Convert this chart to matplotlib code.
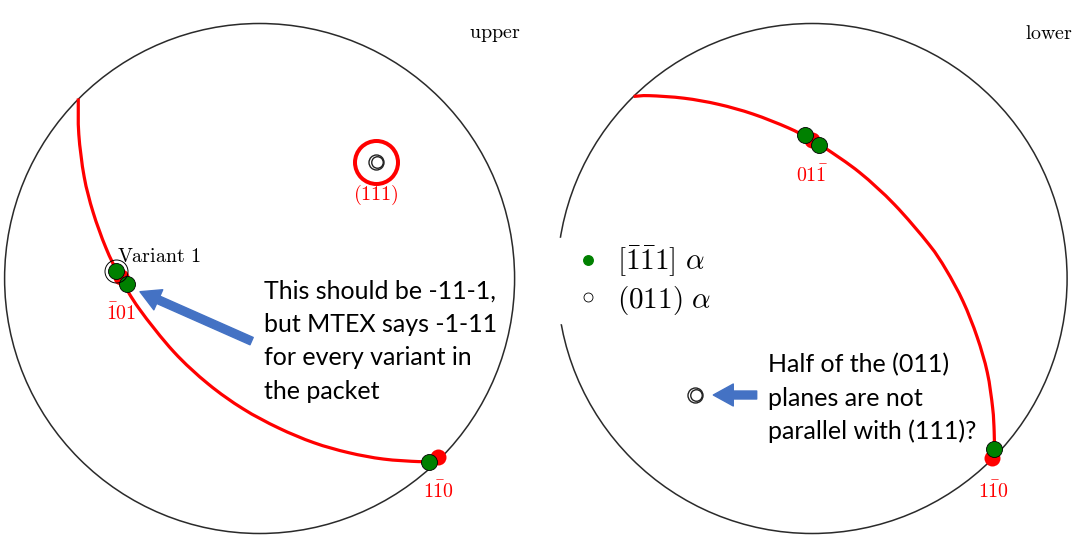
import matplotlib
matplotlib.use('Agg')
import matplotlib.pyplot as plt
from matplotlib.patches import Circle, FancyArrowPatch, ArrowStyle, PathPatch
from matplotlib.path import Path
from matplotlib.lines import Line2D

plt.rcParams['mathtext.fontset'] = 'cm'

# ---------------- data (stereographic unit-circle coordinates) ----------------
# upper hemisphere: trace of the (111) plane
upper_gc_x = [-0.711, -0.709, -0.688, -0.653, -0.603, -0.548, -0.472, -0.337,
              -0.201, -0.065, 0.074, 0.213, 0.349, 0.485, 0.622, 0.669]
upper_gc_y = [0.706, 0.565, 0.399, 0.260, 0.121, 0.006, -0.119, -0.287,
              -0.414, -0.511, -0.586, -0.644, -0.683, -0.708, -0.718, -0.716]
upper_red_x = [-0.542, 0.701]
upper_red_y = [0.004, -0.699]
upper_green_x = [-0.563, -0.521, 0.665]
upper_green_y = [0.029, -0.022, -0.718]
upper_labels = [r'$\bar{1}01$', r'$1\bar{1}0$']
upper_label_x = [-0.541, 0.700]
upper_label_y = [-0.136, -0.836]
pole_x, pole_y = [0.458], [0.458]
pole_label = r'$(111)$'
pole_label_xy = (0.454, 0.327)
variant_x, variant_y = [-0.563], [0.031]
variant_label = r'$\mathrm{Variant\ 1}$'
upper_plane_x = [0.456, 0.460]
upper_plane_y = [0.458, 0.458]

# lower hemisphere
lower_gc_x = [-0.700, -0.638, -0.502, -0.367, -0.232, -0.094, -0.010, 0.049,
              0.186, 0.323, 0.458, 0.525, 0.592, 0.647, 0.687, 0.708, 0.714, 0.715]
lower_gc_y = [0.714, 0.717, 0.707, 0.683, 0.645, 0.591, 0.548, 0.513,
              0.416, 0.290, 0.134, 0.035, -0.090, -0.229, -0.368, -0.507, -0.600, -0.667]
lower_red_x = [0.000, 0.705]
lower_red_y = [0.543, -0.705]
lower_green_x = [-0.029, 0.028, 0.714]
lower_green_y = [0.562, 0.524, -0.670]
lower_labels = [r'$01\bar{1}$', r'$1\bar{1}0$']
lower_label_x = [-0.002, 0.711]
lower_label_y = [0.406, -0.836]
lower_plane_x = [-0.461, -0.457]
lower_plane_y = [-0.457, -0.457]

legend_labels = [r'$[\bar{1}\bar{1}1]\ \alpha$', r'$(011)\ \alpha$']

note_left = ['This should be -11-1,', 'but MTEX says -1-11',
             'for every variant in', 'the packet']
note_right = ['Half of the (011)', 'planes are not', 'parallel with (111)?']

# ---------------- layout ----------------
W, H = 1091, 555
R = 255.0
CY = 278.5
fig = plt.figure(figsize=(W / 100, H / 100), dpi=100)

axL = fig.add_axes([0, 0, 545 / W, 1])
cxL = 259.6
axL.set_xlim(-cxL / R, (545 - cxL) / R)
axL.set_ylim(-(H - CY) / R, CY / R)

axR = fig.add_axes([545 / W, 0, 546 / W, 1])
cxR = 812.1
axR.set_xlim((545 - cxR) / R, (1091 - cxR) / R)
axR.set_ylim(-(H - CY) / R, CY / R)

for ax in (axL, axR):
    ax.axis('off')
    ax.add_patch(Circle((0, 0), 1.0, fill=False, ec='#2a2a2a', lw=1.1, zorder=1))

RED = '#ff0000'
GREEN = '#008000'
BLUE = '#4472c4'
PX = 0.72  # points per pixel
lab_fs = 14.4


def smooth_trace(ax, xs, ys, **kw):
    """Draw a smooth curve through the given points (Catmull-Rom as Bezier)."""
    pts = list(zip(xs, ys))
    n = len(pts)
    verts = [pts[0]]
    codes = [Path.MOVETO]
    for i in range(n - 1):
        p0 = pts[i - 1] if i > 0 else pts[i]
        p1 = pts[i]
        p2 = pts[i + 1]
        p3 = pts[i + 2] if i + 2 < n else pts[i + 1]
        c1 = (p1[0] + (p2[0] - p0[0]) / 6, p1[1] + (p2[1] - p0[1]) / 6)
        c2 = (p2[0] - (p3[0] - p1[0]) / 6, p2[1] - (p3[1] - p1[1]) / 6)
        verts += [c1, c2, p2]
        codes += [Path.CURVE4] * 3
    ax.add_patch(PathPatch(Path(verts, codes), fill=False, **kw))


# ----- upper panel -----
smooth_trace(axL, upper_gc_x, upper_gc_y, ec=RED, lw=2.3, zorder=2, capstyle='butt')
axL.plot(upper_red_x, upper_red_y, 'o', color=RED, ms=16 * PX, mew=0, zorder=3)
axL.plot(upper_green_x, upper_green_y, 'o', mfc=GREEN, mec='black', mew=0.6,
         ms=16 * PX, zorder=4)
axL.plot(variant_x, variant_y, 'o', mfc='none', mec='black', mew=0.7,
         ms=23 * PX, zorder=5)
axL.text(variant_x[0] + 0.005, variant_y[0] + 0.055, variant_label, fontsize=lab_fs,
         ha='left', va='center', color='black', zorder=6)
for t, x, y in zip(upper_labels, upper_label_x, upper_label_y):
    axL.text(x, y, t, color=RED, fontsize=lab_fs, ha='center', va='center')
axL.plot(pole_x, pole_y, 'o', mfc='none', mec=RED, mew=4 * PX, ms=43 * PX, zorder=3)
axL.plot(upper_plane_x[:1], upper_plane_y[:1], 'o', mfc='none', mec='#222222',
         mew=1.0, ms=15 * PX, zorder=4)
axL.plot(upper_plane_x[1:], upper_plane_y[1:], 'o', mfc='none', mec='#222222',
         mew=1.0, ms=11.5 * PX, zorder=4)
axL.text(pole_label_xy[0], pole_label_xy[1], pole_label, color=RED, fontsize=lab_fs,
         ha='center', va='center')
axL.text(0.922, 0.957, r'$\mathrm{upper}$', fontsize=lab_fs, ha='center', va='center')

# ----- lower panel -----
smooth_trace(axR, lower_gc_x, lower_gc_y, ec=RED, lw=2.3, zorder=2, capstyle='butt')
axR.plot(lower_red_x, lower_red_y, 'o', color=RED, ms=16 * PX, mew=0, zorder=3)
axR.plot(lower_green_x, lower_green_y, 'o', mfc=GREEN, mec='black', mew=0.6,
         ms=16 * PX, zorder=4)
for t, x, y in zip(lower_labels, lower_label_x, lower_label_y):
    axR.text(x, y, t, color=RED, fontsize=lab_fs, ha='center', va='center')
axR.plot(lower_plane_x[:1], lower_plane_y[:1], 'o', mfc='none', mec='#222222',
         mew=1.0, ms=15 * PX, zorder=4)
axR.plot(lower_plane_x[1:], lower_plane_y[1:], 'o', mfc='none', mec='#222222',
         mew=1.0, ms=11.5 * PX, zorder=4)
axR.text(0.931, 0.960, r'$\mathrm{lower}$', fontsize=lab_fs, ha='center', va='center')

handles = [Line2D([], [], ls='none', marker='o', mfc=GREEN, mec=GREEN, ms=9.5 * PX),
           Line2D([], [], ls='none', marker='o', mfc='white', mec='black',
                  mew=0.6, ms=9 * PX)]
leg = axR.legend(handles, legend_labels, loc='upper left',
                 bbox_to_anchor=((553 - cxR) / R, (CY - 238) / R),
                 bbox_transform=axR.transData, borderaxespad=0,
                 fontsize=21, frameon=True, facecolor='white', edgecolor='white',
                 framealpha=1, fancybox=False, borderpad=0.2, handlelength=2.0,
                 handletextpad=0.0, labelspacing=0.15)
leg.set_zorder(10)


# ----- annotations -----
def upx(cx, px):
    return (px - cx) / R


def upy(py):
    return (CY - py) / R


note_font = 'Lato'
left_lines = []
for i, line in enumerate(note_left):
    t = axL.text(upx(cxL, 263.8), upy(299 + 33.2 * i), line, fontsize=20,
                 family=note_font, ha='left', va='baseline', color='black')
    left_lines.append(t)
right_lines = []
for i, line in enumerate(note_right):
    t = axR.text(upx(cxR, 768.3), upy(372.3 + 33.2 * i), line, fontsize=20,
                 family=note_font, ha='left', va='baseline', color='black')
    right_lines.append(t)

fig.canvas.draw()
rend = fig.canvas.get_renderer()
w = right_lines[0].get_window_extent(rend).width
fs = 20 * 181.7 / w
for t in left_lines + right_lines:
    t.set_fontsize(fs)

arrow_style = ArrowStyle.Simple(head_length=20 * PX, head_width=22 * PX, tail_width=8 * PX)
axL.add_patch(FancyArrowPatch((upx(cxL, 251.6), upy(341.1)),
                              (upx(cxL, 140.0), upy(291.7)),
                              arrowstyle=arrow_style, mutation_scale=1,
                              color=BLUE, shrinkA=0, shrinkB=0, zorder=6))
axR.add_patch(FancyArrowPatch((upx(cxR, 756.7), upy(395.0)),
                              (upx(cxR, 713.3), upy(395.0)),
                              arrowstyle=arrow_style, mutation_scale=1,
                              color=BLUE, shrinkA=0, shrinkB=0, zorder=6))

fig.savefig('out.png', dpi=100, facecolor='white')
